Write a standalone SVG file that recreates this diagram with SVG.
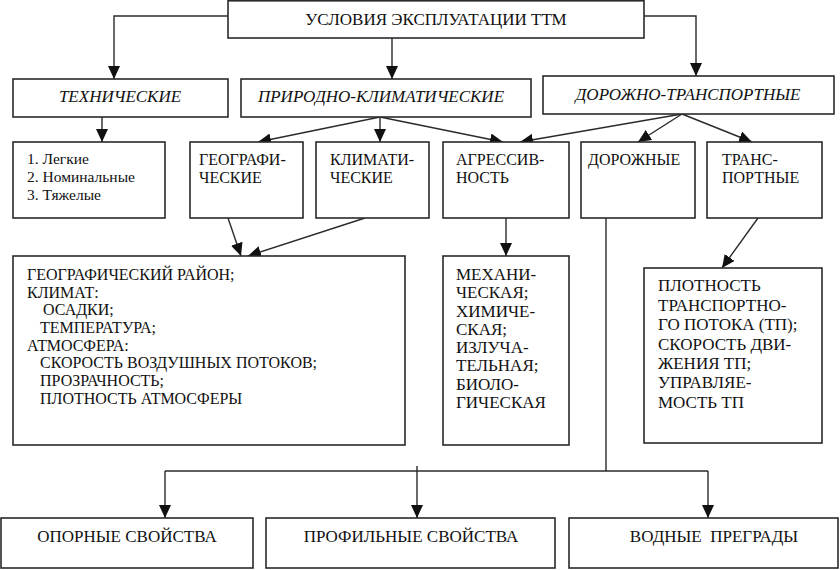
<svg xmlns="http://www.w3.org/2000/svg" width="840" height="570" viewBox="0 0 840 570">
<style>
rect{fill:#fff;stroke:#2a2a2a;stroke-width:1.6}
.c path{fill:none;stroke:#2a2a2a;stroke-width:1.4}
text{font-family:"Liberation Serif","Times New Roman",serif;fill:#111;font-size:16px}
.i{font-style:italic;font-size:17px;text-anchor:middle}
.m{text-anchor:middle;font-size:17px}
.l{font-size:17px}
.s{font-size:15.5px}
</style>
<defs>
<marker id="a" markerUnits="userSpaceOnUse" markerWidth="13" markerHeight="12" refX="13" refY="6" orient="auto">
<path d="M0,0 L13,6 L0,12 z" fill="#111"/>
</marker>
</defs>
<rect x="0" y="0" width="840" height="570" style="fill:#fff;stroke:none"/>
<g class="c" id="connectors">
<path d="M228,16 H114 V79" marker-end="url(#a)"/>
<path d="M392,38 V79" marker-end="url(#a)"/>
<path d="M644,16 H696 V76" marker-end="url(#a)"/>
<path d="M102,117 V142" marker-end="url(#a)"/>
<path d="M380,117 L258,142" marker-end="url(#a)"/>
<path d="M380,117 V142" marker-end="url(#a)"/>
<path d="M380,117 L503,142" marker-end="url(#a)"/>
<path d="M682,114 L520,142" marker-end="url(#a)"/>
<path d="M682,114 L638,142" marker-end="url(#a)"/>
<path d="M682,114 L752,142" marker-end="url(#a)"/>
<path d="M228,218 L241,256" marker-end="url(#a)"/>
<path d="M365,218 L248,256" marker-end="url(#a)"/>
<path d="M506,218 V256" marker-end="url(#a)"/>
<path d="M758,218 L722,268" marker-end="url(#a)"/>
<path d="M606,218 V471"/>
<path d="M165,471 H708"/>
<path d="M165,471 V518" marker-end="url(#a)"/>
<path d="M417,466 V518" marker-end="url(#a)"/>
<path d="M708,471 V518" marker-end="url(#a)"/>
</g>
<g id="root"><rect x="228" y="0.8" width="416" height="37.2"/><text class="m" x="436" y="25">УСЛОВИЯ ЭКСПЛУАТАЦИИ ТТМ</text></g>
<g id="tech"><rect x="13" y="79" width="215" height="38"/><text class="i" x="120" y="102">ТЕХНИЧЕСКИЕ</text></g>
<g id="prir"><rect x="241" y="79" width="290" height="38"/><text class="i" x="381" y="102">ПРИРОДНО-КЛИМАТИЧЕСКИЕ</text></g>
<g id="dortr"><rect x="543" y="76" width="291" height="38"/><text class="i" x="688" y="100">ДОРОЖНО-ТРАНСПОРТНЫЕ</text></g>
<g id="levels"><rect x="13" y="142" width="152" height="76"/><text class="s" x="27" y="164">1. Легкие</text><text class="s" x="27" y="182">2. Номинальные</text><text class="s" x="27" y="200">3. Тяжелые</text></g>
<g id="geo"><rect x="190" y="142" width="113" height="76"/><text x="199" y="165">ГЕОГРАФИ-</text><text x="199" y="183">ЧЕСКИЕ</text></g>
<g id="klim"><rect x="316" y="142" width="113" height="76"/><text x="330" y="165">КЛИМАТИ-</text><text x="330" y="183">ЧЕСКИЕ</text></g>
<g id="agr"><rect x="443" y="142" width="126" height="76"/><text x="456" y="165">АГРЕССИВ-</text><text x="456" y="183">НОСТЬ</text></g>
<g id="road"><rect x="581" y="142" width="114" height="76"/><text x="588" y="165">ДОРОЖНЫЕ</text></g>
<g id="trans"><rect x="707" y="142" width="115" height="76"/><text x="722" y="165">ТРАНС-</text><text x="722" y="183">ПОРТНЫЕ</text></g>
<g id="geolist"><rect x="13" y="256" width="392" height="189"/>
<text x="27" y="280">ГЕОГРАФИЧЕСКИЙ РАЙОН;</text>
<text x="27" y="298">КЛИМАТ:</text>
<text x="43" y="315">ОСАДКИ;</text>
<text x="40" y="333">ТЕМПЕРАТУРА;</text>
<text x="27" y="351">АТМОСФЕРА:</text>
<text x="40" y="368">СКОРОСТЬ ВОЗДУШНЫХ ПОТОКОВ;</text>
<text x="40" y="386">ПРОЗРАЧНОСТЬ;</text>
<text x="40" y="404">ПЛОТНОСТЬ АТМОСФЕРЫ</text>
</g>
<g id="agrlist"><rect x="443" y="256" width="126" height="189"/>
<text class="l" x="456" y="280">МЕХАНИ-</text>
<text class="l" x="456" y="298">ЧЕСКАЯ;</text>
<text class="l" x="456" y="317">ХИМИЧЕ-</text>
<text class="l" x="456" y="335">СКАЯ;</text>
<text class="l" x="456" y="353">ИЗЛУЧА-</text>
<text class="l" x="456" y="371">ТЕЛЬНАЯ;</text>
<text class="l" x="456" y="390">БИОЛО-</text>
<text class="l" x="456" y="408">ГИЧЕСКАЯ</text>
</g>
<g id="translist"><rect x="644" y="268" width="178" height="175"/>
<text class="l" x="658" y="291">ПЛОТНОСТЬ</text>
<text class="l" x="658" y="311">ТРАНСПОРТНО-</text>
<text class="l" x="658" y="330">ГО ПОТОКА (ТП);</text>
<text class="l" x="658" y="350">СКОРОСТЬ ДВИ-</text>
<text class="l" x="658" y="369">ЖЕНИЯ ТП;</text>
<text class="l" x="658" y="388">УПРАВЛЯЕ-</text>
<text class="l" x="658" y="408">МОСТЬ ТП</text>
</g>
<g id="support"><rect x="1" y="518" width="252" height="50"/><text class="m" x="127" y="542">ОПОРНЫЕ СВОЙСТВА</text></g>
<g id="profile"><rect x="266" y="518" width="289" height="50"/><text class="m" x="411" y="542">ПРОФИЛЬНЫЕ СВОЙСТВА</text></g>
<g id="water"><rect x="569" y="518" width="269" height="50"/><text class="m" x="714" y="542" xml:space="preserve">ВОДНЫЕ  ПРЕГРАДЫ</text></g>
</svg>
